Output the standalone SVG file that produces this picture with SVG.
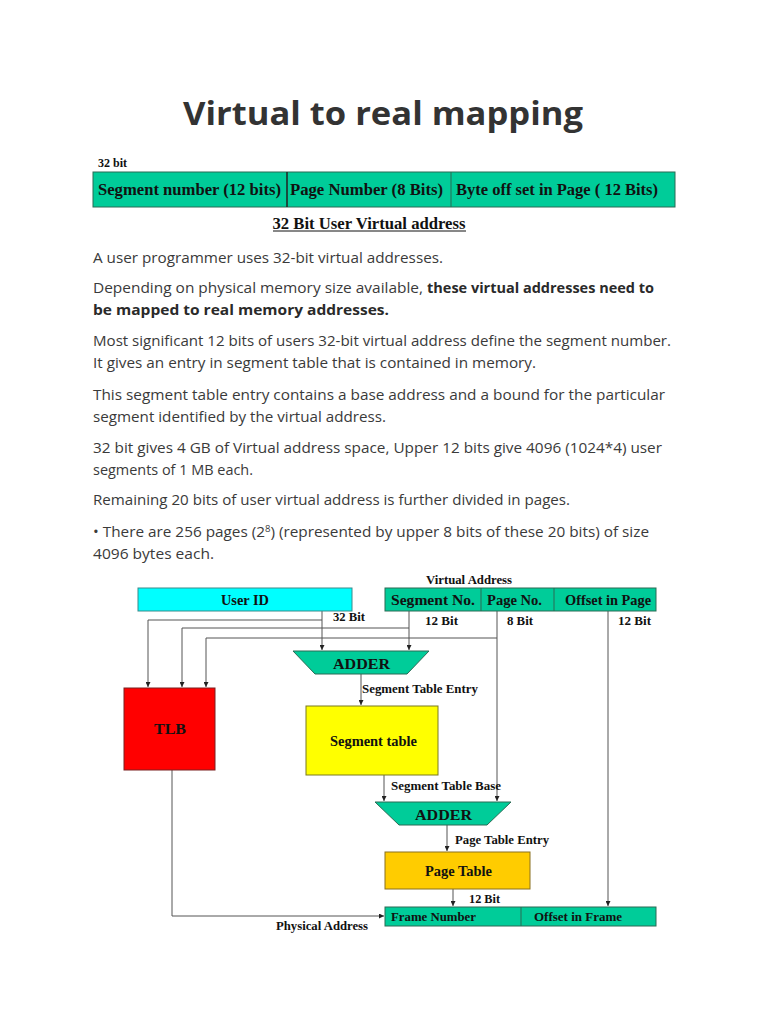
<svg xmlns="http://www.w3.org/2000/svg" width="768" height="1024" viewBox="0 0 768 1024">
<style>
.title{font-family:"Open Sans","Liberation Sans",sans-serif;font-weight:700;font-size:33px;fill:#333}
.p{font-family:"Open Sans","Liberation Sans",sans-serif;font-size:14.5px;fill:#3a3a3a}
.pb{font-family:"Open Sans","Liberation Sans",sans-serif;font-size:14.5px;fill:#2a2a2a;font-weight:700}
.t{font-family:"Liberation Serif","Times New Roman",serif;font-weight:700;fill:#111}
.green{fill:#00CC99;stroke:#2b6b55;stroke-width:1}
.ln{fill:none;stroke:#555;stroke-width:1}
</style>
<defs>
<marker id="ah" viewBox="0 0 6 6" refX="6" refY="3" markerWidth="5" markerHeight="5" orient="auto" markerUnits="userSpaceOnUse">
<path d="M0,0 L6,3 L0,6 z" fill="#222"/>
</marker>
</defs>
<rect width="768" height="1024" fill="#fff"/>

<text class="title" x="383" y="125" text-anchor="middle" textLength="400" lengthAdjust="spacingAndGlyphs">Virtual to real mapping</text>

<g id="vaddr-table">
<text class="t" x="98" y="167" font-size="12">32 bit</text>
<rect class="green" x="93" y="172" width="582" height="35"/>
<line x1="287" y1="172" x2="287" y2="207" stroke="#222" stroke-width="1.5"/>
<line x1="451" y1="172" x2="451" y2="207" stroke="#2b6b55" stroke-width="1"/>
<text class="t" x="98" y="195" font-size="16" textLength="183" lengthAdjust="spacingAndGlyphs">Segment number (12 bits)</text>
<text class="t" x="290" y="195" font-size="16" textLength="153" lengthAdjust="spacingAndGlyphs">Page Number (8 Bits)</text>
<text class="t" x="456" y="195" font-size="16" textLength="202" lengthAdjust="spacingAndGlyphs">Byte off set in Page ( 12 Bits)</text>
<text class="t" x="369" y="229" font-size="16" text-anchor="middle" textLength="193" lengthAdjust="spacingAndGlyphs">32 Bit User Virtual address</text>
<line x1="273" y1="231" x2="466" y2="231" stroke="#111" stroke-width="1"/>
</g>

<g id="paragraphs">
<text class="p" x="93" y="263" textLength="350" lengthAdjust="spacingAndGlyphs">A user programmer uses 32-bit virtual addresses.</text>
<text class="p" x="93" y="293" textLength="330" lengthAdjust="spacingAndGlyphs">Depending on physical memory size available,</text>
<text class="pb" x="427" y="293" textLength="227" lengthAdjust="spacingAndGlyphs">these virtual addresses need to</text>
<text class="pb" x="93" y="315" textLength="296" lengthAdjust="spacingAndGlyphs">be mapped to real memory addresses.</text>
<text class="p" x="93" y="346" textLength="578" lengthAdjust="spacingAndGlyphs">Most significant 12 bits of users 32-bit virtual address define the segment number.</text>
<text class="p" x="93" y="368" textLength="443" lengthAdjust="spacingAndGlyphs">It gives an entry in segment table that is contained in memory.</text>
<text class="p" x="93" y="400" textLength="572" lengthAdjust="spacingAndGlyphs">This segment table entry contains a base address and a bound for the particular</text>
<text class="p" x="93" y="422" textLength="293" lengthAdjust="spacingAndGlyphs">segment identified by the virtual address.</text>
<text class="p" x="93" y="453" textLength="569" lengthAdjust="spacingAndGlyphs">32 bit gives 4 GB of Virtual address space, Upper 12 bits give 4096 (1024*4) user</text>
<text class="p" x="93" y="475" textLength="160" lengthAdjust="spacingAndGlyphs">segments of 1 MB each.</text>
<text class="p" x="93" y="505" textLength="477" lengthAdjust="spacingAndGlyphs">Remaining 20 bits of user virtual address is further divided in pages.</text>
<text class="p" x="93" y="537" textLength="556" lengthAdjust="spacingAndGlyphs">• There are 256 pages (2<tspan font-size="9" dy="-5">8</tspan><tspan dy="5">) (represented by upper 8 bits of these 20 bits) of size</tspan></text>
<text class="p" x="93" y="559" textLength="121" lengthAdjust="spacingAndGlyphs">4096 bytes each.</text>
</g>

<g id="connectors">
<path class="ln" d="M322,611 V620 H148 V687" marker-end="url(#ah)"/>
<path class="ln" d="M322,620 V650" marker-end="url(#ah)"/>
<path class="ln" d="M409,611 V628 H182 V687" marker-end="url(#ah)"/>
<path class="ln" d="M409,628 V650" marker-end="url(#ah)"/>
<path class="ln" d="M497,611 V638 H206 V687" marker-end="url(#ah)"/>
<path class="ln" d="M497,638 V801" marker-end="url(#ah)"/>
<path class="ln" d="M608,611 V906" marker-end="url(#ah)"/>
<path class="ln" d="M361,674 V705" marker-end="url(#ah)"/>
<path class="ln" d="M384,775 V801" marker-end="url(#ah)"/>
<path class="ln" d="M447,825 V851" marker-end="url(#ah)"/>
<path class="ln" d="M453,889 V906" marker-end="url(#ah)"/>
<path class="ln" d="M172,770 V916 H384" marker-end="url(#ah)"/>
<text class="t" x="333" y="621" font-size="12" textLength="32" lengthAdjust="spacingAndGlyphs">32 Bit</text>
<text class="t" x="425" y="625" font-size="12" textLength="33" lengthAdjust="spacingAndGlyphs">12 Bit</text>
<text class="t" x="507" y="625" font-size="12" textLength="26" lengthAdjust="spacingAndGlyphs">8 Bit</text>
<text class="t" x="618" y="625" font-size="12" textLength="33" lengthAdjust="spacingAndGlyphs">12 Bit</text>
<text class="t" x="362" y="693" font-size="12" textLength="116" lengthAdjust="spacingAndGlyphs">Segment Table Entry</text>
<text class="t" x="391" y="790" font-size="12" textLength="110" lengthAdjust="spacingAndGlyphs">Segment Table Base</text>
<text class="t" x="455" y="844" font-size="12" textLength="94" lengthAdjust="spacingAndGlyphs">Page Table Entry</text>
<text class="t" x="469" y="903" font-size="12" textLength="31" lengthAdjust="spacingAndGlyphs">12 Bit</text>
<text class="t" x="276" y="930" font-size="12" textLength="92" lengthAdjust="spacingAndGlyphs">Physical Address</text>
</g>

<g id="user-id">
<rect x="138" y="588" width="214" height="23" fill="#00FFFF" stroke="#3a8a8a" stroke-width="1"/>
<text class="t" x="221" y="605" font-size="14" textLength="48" lengthAdjust="spacingAndGlyphs">User ID</text>
</g>

<g id="virtual-address">
<text class="t" x="426" y="584" font-size="12" textLength="86" lengthAdjust="spacingAndGlyphs">Virtual Address</text>
<rect class="green" x="385" y="588" width="271" height="23"/>
<line x1="481" y1="588" x2="481" y2="611" stroke="#2b6b55"/>
<line x1="554" y1="588" x2="554" y2="611" stroke="#2b6b55"/>
<text class="t" x="391" y="605" font-size="14" textLength="84" lengthAdjust="spacingAndGlyphs">Segment No.</text>
<text class="t" x="487" y="605" font-size="14" textLength="55" lengthAdjust="spacingAndGlyphs">Page No.</text>
<text class="t" x="565" y="605" font-size="14" textLength="86" lengthAdjust="spacingAndGlyphs">Offset in Page</text>
</g>

<g id="adder1">
<polygon points="293,651 429,651 407,674 315,674" fill="#00CC99" stroke="#2b6b55" stroke-width="1"/>
<text class="t" x="333" y="668.5" font-size="15" textLength="57" lengthAdjust="spacingAndGlyphs">ADDER</text>
</g>

<g id="tlb">
<rect x="124" y="688" width="91" height="82" fill="#FF0000" stroke="#7a2020" stroke-width="1"/>
<text class="t" x="154" y="734" font-size="15" textLength="32" lengthAdjust="spacingAndGlyphs" fill="#3a0000">TLB</text>
</g>

<g id="segment-table">
<rect x="306" y="706" width="132" height="69" fill="#FFFF00" stroke="#7a7a20" stroke-width="1"/>
<text class="t" x="330" y="746" font-size="14" textLength="87" lengthAdjust="spacingAndGlyphs">Segment table</text>
</g>

<g id="adder2">
<polygon points="375,802 511,802 487,825 399,825" fill="#00CC99" stroke="#2b6b55" stroke-width="1"/>
<text class="t" x="415" y="819.5" font-size="15" textLength="57" lengthAdjust="spacingAndGlyphs">ADDER</text>
</g>

<g id="page-table">
<rect x="385" y="852" width="145" height="37" fill="#FFCC00" stroke="#8a7020" stroke-width="1"/>
<text class="t" x="425" y="876" font-size="14" textLength="67" lengthAdjust="spacingAndGlyphs">Page Table</text>
</g>

<g id="physical-address">
<rect class="green" x="385" y="907" width="271" height="19"/>
<line x1="521" y1="907" x2="521" y2="926" stroke="#2b6b55"/>
<text class="t" x="391" y="921" font-size="12.5" textLength="85" lengthAdjust="spacingAndGlyphs">Frame Number</text>
<text class="t" x="534" y="921" font-size="12.5" textLength="88" lengthAdjust="spacingAndGlyphs">Offset in Frame</text>
</g>
</svg>
